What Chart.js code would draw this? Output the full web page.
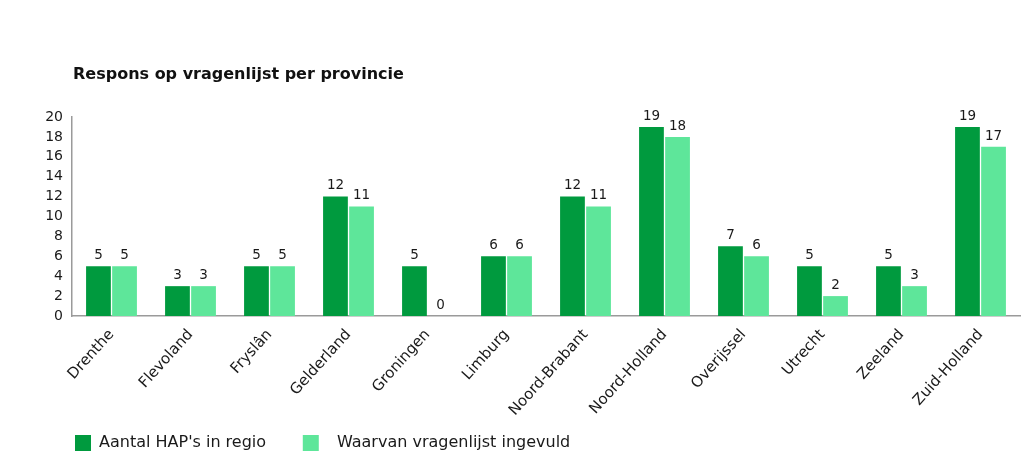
<!DOCTYPE html>
<html>
<head>
<meta charset="utf-8">
<script src="https://cdn.jsdelivr.net/npm/chart.js@4/dist/chart.umd.min.js"></script>
<style>
  html, body { margin: 0; padding: 0; background: #fff; }
  #wrap { width: 1024px; height: 467px; }
</style>
</head>
<body>
<div id="wrap"><canvas id="myChart"></canvas></div>
<script>
const titel = 'Respons op vragenlijst per provincie';
const provincies = ['Drenthe', 'Flevoland', 'Fryslân', 'Gelderland', 'Groningen', 'Limburg',
  'Noord-Brabant', 'Noord-Holland', 'Overijssel', 'Utrecht', 'Zeeland', 'Zuid-Holland'];
const aantalHap = [5, 3, 5, 12, 5, 6, 12, 19, 7, 5, 5, 19];
const ingevuld = [5, 3, 5, 11, 0, 6, 11, 18, 6, 2, 3, 17];
const yTicks = [0, 2, 4, 6, 8, 10, 12, 14, 16, 18, 20];

const fontFam = '"DejaVu Sans", sans-serif';

// titel boven het plotgebied, gelijk met de y-as
const titelPlugin = {
  id: 'titelPlugin',
  afterDraw(chart) {
    const c = chart.ctx;
    c.save();
    c.fillStyle = '#111';
    c.font = 'bold 16px ' + fontFam;
    c.textAlign = 'left';
    c.textBaseline = 'middle';
    c.fillText(titel, chart.chartArea.left + 1, 75);
    c.restore();
  }
};

// waarden boven de staven tekenen
const valueLabels = {
  id: 'valueLabels',
  afterDatasetsDraw(chart) {
    const c = chart.ctx;
    c.save();
    c.fillStyle = '#1a1a1a';
    c.font = '13.5px ' + fontFam;
    c.textAlign = 'center';
    c.textBaseline = 'bottom';
    chart.data.datasets.forEach((ds, i) => {
      chart.getDatasetMeta(i).data.forEach((bar, j) => {
        c.fillText(ds.data[j], bar.x, bar.y - 4);
      });
    });
    c.restore();
  }
};

const ctx = document.getElementById('myChart');
new Chart(ctx, {
  type: 'bar',
  data: {
    labels: provincies,
    datasets: [{
      label: "Aantal HAP's in regio",
      data: aantalHap,
      backgroundColor: '#009a3e',
      categoryPercentage: 0.66,
      barPercentage: 0.95
    }, {
      label: 'Waarvan vragenlijst ingevuld',
      data: ingevuld,
      backgroundColor: '#5ee69a',
      categoryPercentage: 0.66,
      barPercentage: 0.95
    }]
  },
  options: {
    responsive: true,
    maintainAspectRatio: false,
    animation: false,
    layout: { padding: { left: 40, right: 4, top: 117, bottom: 6 } },
    scales: {
      x: {
        grid: { display: false },
        border: { color: '#9a9a9a', width: 1.5 },
        ticks: {
          color: '#1a1a1a',
          font: { family: fontFam, size: 15 },
          maxRotation: 48,
          minRotation: 48,
          padding: 2
        },
        afterFit(scale) { scale.height = 116; }
      },
      y: {
        min: 0,
        max: 20,
        grid: { display: false },
        border: { color: '#9a9a9a', width: 1.5 },
        afterBuildTicks(scale) { scale.ticks = yTicks.map(v => ({ value: v })); },
        ticks: {
          color: '#1a1a1a',
          font: { family: fontFam, size: 14 },
          padding: 1
        },
        afterFit(scale) { scale.width = 32; }
      }
    },
    plugins: {
      title: { display: false },
      legend: {
        position: 'bottom',
        align: 'start',
        fullSize: false,
        labels: {
          color: '#1a1a1a',
          font: { family: fontFam, size: 16 },
          boxWidth: 16,
          boxHeight: 16,
          padding: 3,
          generateLabels(chart) {
            const items = Chart.defaults.plugins.legend.labels.generateLabels(chart);
            // ruimte tussen de legenda-items
            items[0].text = items[0].text + '      \u2009';
            items[1].text = '  ' + items[1].text;
            items.forEach(it => { it.lineWidth = 0; });
            return items;
          }
        }
      },
      tooltip: { enabled: false }
    }
  },
  plugins: [valueLabels, titelPlugin]
});
</script>
</body>
</html>
